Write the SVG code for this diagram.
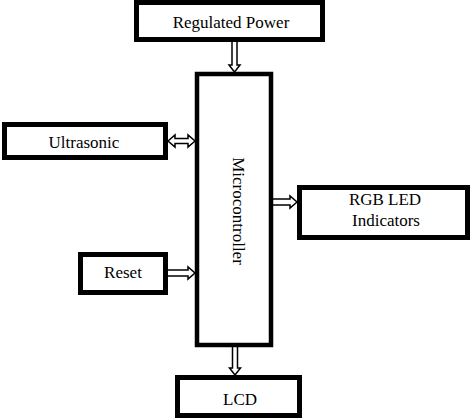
<svg xmlns="http://www.w3.org/2000/svg" width="474" height="418" viewBox="0 0 474 418">
<style>
.box{fill:#fff;stroke:#000;stroke-width:5}
.lbl{font-family:"Liberation Serif","Times New Roman",serif;font-size:17px;fill:#000;text-anchor:middle}
.arr{fill:#fff;stroke:#000;stroke-width:1.5;stroke-linejoin:miter}
</style>
<rect width="474" height="418" fill="#fff"/>
<g id="connectors">
<path class="arr" d="M232,40 V65 H229 L234.5,72 L240,65 H237 V40"/>
<path class="arr" d="M232.5,347 V368 H229.5 L235,375 L240.5,368 H237.5 V347"/>
<path class="arr" d="M273,199 H290 V196 L297,202 L290,208 V205 H273"/>
<path class="arr" d="M168,270 H188 V267 L195,273 L188,279 V276 H168"/>
<path class="arr" d="M168,141 L175,135 V138.5 H188 V135 L195,141 L188,147 V143.5 H175 V147 Z"/>
</g>
<g id="regulated-power">
<rect class="box" x="136.5" y="2.5" width="186" height="37"/>
<text class="lbl" x="231" y="28">Regulated Power</text>
</g>
<g id="microcontroller">
<rect class="box" x="197" y="74" width="74" height="271" style="stroke-width:4.5"/>
<text class="lbl" transform="translate(233,211) rotate(90)">Microcontroller</text>
</g>
<g id="ultrasonic">
<rect class="box" x="4.5" y="124.5" width="161" height="33"/>
<text class="lbl" x="84" y="148">Ultrasonic</text>
</g>
<g id="rgb-led">
<rect class="box" x="299.5" y="187.5" width="168" height="50"/>
<text class="lbl" x="385" y="205">RGB LED</text>
<text class="lbl" x="386" y="226">Indicators</text>
</g>
<g id="reset">
<rect class="box" x="80.5" y="254.5" width="85" height="38"/>
<text class="lbl" x="123" y="278">Reset</text>
</g>
<g id="lcd">
<rect class="box" x="177.5" y="377.5" width="122" height="38"/>
<text class="lbl" x="240" y="405">LCD</text>
</g>
</svg>
